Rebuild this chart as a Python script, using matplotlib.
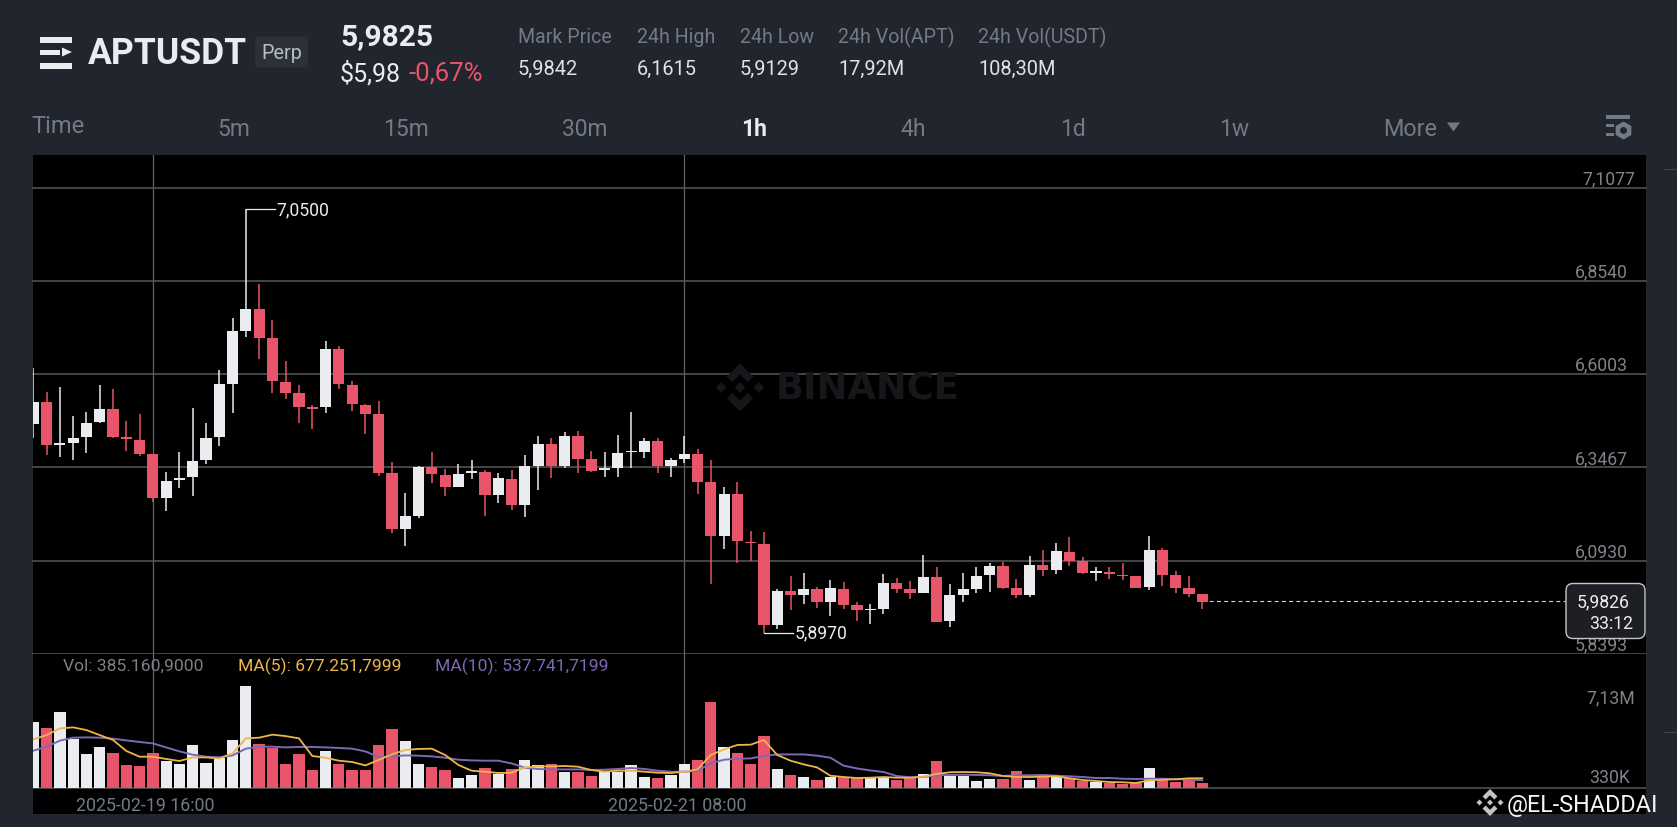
import matplotlib
matplotlib.use("Agg")
from matplotlib import pyplot as plt
from matplotlib.patches import FancyBboxPatch, Polygon, Rectangle
import numpy as np

plt.rcParams['font.family'] = ['Roboto', 'DejaVu Sans']

# Candles, 1h bars
opens = [6.465, 6.524, 6.407, 6.414, 6.429, 6.470, 6.506, 6.429, 6.422, 6.382,
         6.265, 6.312, 6.320, 6.366, 6.430, 6.575, 6.718, 6.777, 6.700, 6.580,
         6.549, 6.511, 6.511, 6.670, 6.572, 6.516, 6.492, 6.332, 6.179, 6.216,
         6.349, 6.327, 6.294, 6.331, 6.335, 6.271, 6.316, 6.245, 6.352, 6.411,
         6.352, 6.431, 6.370, 6.339, 6.345, 6.388, 6.388, 6.420, 6.351, 6.369,
         6.383, 6.306, 6.161, 6.274, 6.144, 6.139, 5.917, 6.012, 6.001, 6.015,
         5.982, 6.017, 5.972, 5.960, 5.961, 6.033, 6.015, 6.006, 6.048, 5.928,
         6.000, 6.017, 6.053, 6.080, 6.019, 6.001, 6.081, 6.068, 6.118, 6.091,
         6.060, 6.062, 6.055, 6.051, 6.021, 6.123, 6.053, 6.018, 6.002]
closes = [6.524, 6.407, 6.413, 6.428, 6.469, 6.506, 6.429, 6.424, 6.382, 6.265,
          6.310, 6.319, 6.364, 6.428, 6.574, 6.717, 6.778, 6.700, 6.582, 6.550,
          6.512, 6.506, 6.670, 6.573, 6.518, 6.493, 6.333, 6.178, 6.216, 6.349,
          6.328, 6.294, 6.329, 6.336, 6.271, 6.317, 6.245, 6.351, 6.411, 6.352,
          6.431, 6.371, 6.337, 6.344, 6.387, 6.392, 6.420, 6.352, 6.368, 6.383,
          6.307, 6.161, 6.274, 6.146, 6.140, 5.917, 6.012, 6.000, 6.015, 5.981,
          6.018, 5.972, 5.960, 5.963, 6.033, 6.015, 6.006, 6.048, 5.927, 5.999,
          6.016, 6.052, 6.080, 6.020, 6.001, 6.081, 6.068, 6.119, 6.092, 6.060,
          6.064, 6.058, 6.051, 6.020, 6.123, 6.055, 6.020, 6.003, 5.982]
highs = [6.616, 6.551, 6.566, 6.487, 6.497, 6.572, 6.559, 6.473, 6.493, 6.382,
         6.334, 6.388, 6.509, 6.468, 6.613, 6.752, 7.050, 6.847, 6.747, 6.635,
         6.571, 6.516, 6.692, 6.676, 6.583, 6.519, 6.528, 6.362, 6.276, 6.352,
         6.388, 6.342, 6.355, 6.366, 6.339, 6.332, 6.339, 6.381, 6.433, 6.426,
         6.444, 6.445, 6.392, 6.388, 6.435, 6.497, 6.426, 6.426, 6.372, 6.431,
         6.396, 6.366, 6.293, 6.308, 6.173, 6.172, 6.015, 6.051, 6.060, 6.021,
         6.040, 6.034, 5.982, 5.974, 6.056, 6.045, 6.039, 6.108, 6.077, 6.029,
         6.059, 6.077, 6.088, 6.089, 6.042, 6.105, 6.122, 6.142, 6.158, 6.103,
         6.076, 6.077, 6.086, 6.051, 6.160, 6.127, 6.064, 6.051, 6.002]
lows = [6.428, 6.380, 6.374, 6.367, 6.387, 6.468, 6.428, 6.392, 6.378, 6.253,
        6.228, 6.291, 6.270, 6.356, 6.404, 6.495, 6.702, 6.642, 6.548, 6.532,
        6.469, 6.450, 6.496, 6.561, 6.501, 6.439, 6.323, 6.169, 6.134, 6.209,
        6.305, 6.270, 6.293, 6.316, 6.215, 6.249, 6.231, 6.211, 6.285, 6.318,
        6.346, 6.331, 6.335, 6.320, 6.320, 6.346, 6.372, 6.333, 6.322, 6.358,
        6.274, 6.031, 6.125, 6.086, 6.091, 5.897, 5.908, 5.959, 5.975, 5.965,
        5.942, 5.962, 5.929, 5.921, 5.949, 6.006, 5.990, 6.004, 5.925, 5.912,
        5.982, 6.004, 6.009, 6.015, 5.992, 5.995, 6.052, 6.056, 6.079, 6.057,
        6.039, 6.043, 6.041, 6.019, 6.013, 6.024, 6.004, 5.995, 5.962]

# Volume in millions
volumes = [4.64, 4.19, 5.31, 3.45, 2.38, 2.84, 2.45, 1.63, 1.56, 2.45,
           1.91, 1.70, 2.98, 1.72, 2.12, 3.33, 7.13, 3.05, 2.82, 1.68,
           2.38, 1.26, 2.56, 1.68, 1.26, 1.28, 3.03, 4.10, 3.29, 1.65,
           1.47, 1.23, 0.72, 0.93, 1.42, 0.98, 1.30, 1.96, 1.61, 1.65,
           1.14, 1.14, 0.86, 1.21, 1.14, 1.61, 0.79, 0.72, 0.91, 1.65,
           1.98, 5.99, 2.89, 2.47, 1.65, 3.61, 1.30, 0.89, 0.77, 0.56,
           0.77, 0.75, 0.68, 0.70, 0.70, 0.58, 0.70, 0.96, 1.86, 0.86,
           0.82, 0.47, 0.61, 0.61, 1.21, 0.58, 0.79, 0.84, 0.72, 0.49,
           0.40, 0.35, 0.30, 0.35, 1.42, 0.61, 0.44, 0.54, 0.385]
ma5 = [3.40, 3.70, 4.17, 4.24, 4.05, 3.70, 3.36, 2.59, 2.19, 2.19,
       2.03, 1.89, 2.14, 2.14, 2.07, 2.42, 3.47, 3.52, 3.73, 3.63,
       3.47, 2.24, 2.12, 1.91, 1.82, 1.58, 1.96, 2.35, 2.66, 2.73,
       2.75, 2.31, 1.61, 1.21, 1.14, 1.05, 1.07, 1.44, 1.51, 1.51,
       1.54, 1.49, 1.26, 1.14, 1.21, 1.21, 1.14, 1.07, 1.05, 1.14,
       1.30, 2.31, 2.70, 3.01, 3.03, 3.36, 2.31, 1.91, 1.65, 1.44,
       0.86, 0.77, 0.70, 0.72, 0.77, 0.72, 0.72, 0.79, 0.98, 1.10,
       1.12, 1.10, 1.03, 0.84, 0.77, 0.77, 0.79, 0.82, 0.68, 0.56,
       0.49, 0.42, 0.40, 0.35, 0.54, 0.58, 0.61, 0.68, 0.68]
ma10 = [2.61, 2.89, 3.31, 3.52, 3.54, 3.52, 3.45, 3.33, 3.22, 3.12,
        2.84, 2.56, 2.33, 2.19, 2.14, 2.28, 2.75, 2.89, 2.89, 2.84,
        2.87, 2.87, 2.84, 2.80, 2.75, 2.56, 2.17, 2.21, 2.28, 2.26,
        2.21, 2.12, 1.98, 1.93, 1.91, 1.91, 1.72, 1.42, 1.33, 1.30,
        1.30, 1.30, 1.26, 1.28, 1.33, 1.40, 1.33, 1.21, 1.14, 1.14,
        1.21, 1.72, 1.98, 2.05, 2.07, 2.24, 2.35, 2.35, 2.35, 2.26,
        2.12, 1.56, 1.37, 1.23, 1.12, 0.84, 0.75, 0.77, 0.89, 0.91,
        0.93, 0.91, 0.89, 0.84, 0.89, 0.89, 0.91, 0.86, 0.82, 0.77,
        0.70, 0.70, 0.65, 0.63, 0.65, 0.65, 0.61, 0.61, 0.54]

price_ticks = [7.1077, 6.8540, 6.6003, 6.3467, 6.0930, 5.8393]
price_labels = ['7,1077', '6,8540', '6,6003', '6,3467', '6,0930', '5,8393']
time_ticks = [9, 49]
time_labels = ['2025-02-19 16:00', '2025-02-21 08:00']
last_price = 5.9826
high_mark = 7.05
low_mark = 5.897

stats = [('Mark Price', '5,9842'), ('24h High', '6,1615'), ('24h Low', '5,9129'),
         ('24h Vol(APT)', '17,92M'), ('24h Vol(USDT)', '108,30M')]
intervals = ['5m', '15m', '30m', '1h', '4h', '1d', '1w']

BG = '#21252e'
RED = '#e8546a'
WHITE = '#eaecef'
GREY = '#747a85'
GRID = '#58585c'
W, H = 1677, 828

fig = plt.figure(figsize=(W / 100, H / 100), dpi=100, facecolor=BG)


def axes_px(x0, y0, x1, y1):
    # axes from pixel box, y measured from the top
    ax = fig.add_axes([x0 / W, 1 - y1 / H, (x1 - x0) / W, (y1 - y0) / H])
    ax.set_facecolor('black')
    for s in ax.spines.values():
        s.set_visible(False)
    ax.set_xticks([])
    ax.set_yticks([])
    return ax


ax = axes_px(33, 156, 1646, 655)
ax_vol = axes_px(33, 655, 1646, 815)
xs = np.arange(len(opens))
ups = [c >= o for o, c in zip(opens, closes)]
colors = [WHITE if u else RED for u in ups]

ax.set_xlim(-0.023, 121.4)
ax_vol.set_xlim(-0.023, 121.4)
ax.set_ylim(5.8393, 7.1967)
ax_vol.set_ylim(-1.817, 9.37)

# crosshair stops at the volume baseline
for t in time_ticks:
    ax.axvline(t, color='#626266', lw=0.9, zorder=1)
    ax_vol.axvline(t, ymin=26 / 160, color='#626266', lw=0.9, zorder=1)

# price grid
for p in price_ticks:
    ax.axhline(p, color=GRID, lw=1.1, zorder=1, clip_on=False)
ax_vol.axhline(0, color=GRID, lw=1.1, zorder=1)

# candles
ax.vlines(xs, lows, highs, colors=colors, lw=1.1, zorder=3)
bottoms = [min(o, c) for o, c in zip(opens, closes)]
heights = [abs(o - c) for o, c in zip(opens, closes)]
ax.bar(xs, heights, bottom=bottoms, width=0.84, color=colors, zorder=4)

# high / low marks
hi = highs.index(high_mark)
lo = lows.index(low_mark)
ax.plot([hi, hi + 2.2], [high_mark, high_mark], color=WHITE, lw=0.9, zorder=3)
ax.plot([lo, lo + 2.2], [low_mark, low_mark], color=WHITE, lw=0.9, zorder=3)
ax.text(hi + 2.3, high_mark, '7,0500', color=WHITE, fontsize=12.7, va='center', ha='left')
ax.text(lo + 2.3, low_mark, '5,8970', color=WHITE, fontsize=12.7, va='center', ha='left')

# last price line
ax.plot([len(opens) - 1, 115.3], [last_price, last_price], color='#d8d8d8', lw=0.8,
        dashes=(3.5, 3), zorder=2)

# volume
ax_vol.bar(xs, volumes, width=0.85, color=colors, zorder=3)
ax_vol.plot(xs, ma10, color='#7d68b5', lw=1.4, zorder=4)
ax_vol.plot(xs, ma5, color='#efb54a', lw=1.3, zorder=5)
for t, lab in zip(time_ticks, time_labels):
    ax_vol.text(t - 0.55, -1.2, lab, color=GREY, fontsize=12.8, ha='center', va='center')

# overlay in pixel coordinates for the app chrome
ov = fig.add_axes([0, 0, 1, 1], zorder=10)
ov.set_xlim(0, W)
ov.set_ylim(H - 1.5, -1.5)
ov.axis('off')
ov.patch.set_alpha(0)


def label(x, y, s, color=GREY, size=13.5, ha='left', weight='normal', z=5, family=None):
    ov.text(x, y, s, color=color, fontsize=size, ha=ha, va='center', fontweight=weight,
            zorder=z, family=family)


def rect(x, y, w, h, color, z=4):
    ov.add_patch(Rectangle((x, y), w, h, color=color, lw=0, zorder=z))


def exchange_logo(cx, cy, s, color, z=1):
    # three small diamonds and two chevrons
    for dx in (-0.78, 0, 0.78):
        r = 0.22
        ov.add_patch(Polygon([[cx + (dx - r) * s, cy], [cx + dx * s, cy - r * s],
                              [cx + (dx + r) * s, cy], [cx + dx * s, cy + r * s]],
                             color=color, lw=0, zorder=z))
    for sign in (-1, 1):
        pts = [(0, 1), (0.55, 0.45), (0.32, 0.22), (0, 0.54), (-0.32, 0.22), (-0.55, 0.45)]
        ov.add_patch(Polygon([[cx + px * s, cy + sign * py * s] for px, py in pts],
                             color=color, lw=0, zorder=z))


# menu icon + symbol
rect(40, 36, 32, 6, WHITE)
rect(40, 49, 20, 5, WHITE)
ov.add_patch(Polygon([[62, 47], [72, 51.5], [62, 56]], color=WHITE, lw=0))
rect(40, 62, 32, 6, WHITE)
label(88, 52, 'APTUSDT', WHITE, 25.6, weight='bold')
ov.add_patch(FancyBboxPatch((255, 36), 53, 31, boxstyle='round,pad=0,rounding_size=3',
                            fc='#2b3039', ec='none'))
label(282, 52, 'Perp', '#b7bdc6', 14.2, ha='center')
label(340, 36, '5,9825', WHITE, 21.5, weight='bold')
label(340, 72, '$5,98', WHITE, 18)
label(409, 72, '-0,67%', RED, 18.5)

for x, (name, val) in zip([518, 637, 740, 838.5, 978.5], stats):
    label(x, 36, name, GREY, 14.1)
    label(x, 68, val, '#dfe2e6', 14.4)

# interval row
label(31, 125, 'Time', GREY, 17)
for x, s in zip([234, 406, 585, 754, 913, 1073, 1234], intervals):
    if s == '1h':
        label(x, 128, s, WHITE, 16.5, ha='center', weight='bold')
    else:
        label(x, 128, s, GREY, 16.5, ha='center')
label(1410, 128, 'More', GREY, 16.8, ha='center')
ov.add_patch(Polygon([[1447, 122], [1460, 122], [1453.5, 131]], color=GREY, lw=0))
rect(1606, 114, 24, 4, GREY)
rect(1606, 123, 8, 3, GREY)
rect(1606, 132, 8, 3, GREY)
ov.plot([1623], [129], marker='h', ms=13, mfc=GREY, mec='none', ls='')
ov.plot([1623], [129], marker='o', ms=5, mfc=BG, mec='none', ls='')

# right scale labels
for p, lab in zip(price_ticks, price_labels):
    y = H - ax.transData.transform((0, p))[1] - 11
    label(1635.5 if lab == '7,1077' else 1628, y, lab, '#80838a', 12.7, ha='right', z=2)
label(1635.5, 697, '7,13M', '#80838a', 12.7, ha='right')
label(1630, 777, '330K', '#80838a', 12.7, ha='right')

# last price box
ov.add_patch(FancyBboxPatch((1566, 583), 79, 55, boxstyle='round,pad=0,rounding_size=7',
                            fc='#1d1f25', ec='#c4c6c9', lw=1, zorder=3))
label(1603, 601, '5,9826', WHITE, 12.7, ha='center')
label(1611, 623, '33:12', WHITE, 12.7, ha='center')

# volume legend
label(63, 665, 'Vol: 385.160,9000', '#7c7f86', 12.6)
label(238, 665, 'MA(5): 677.251,7999', '#efb54a', 12.6)
label(435, 665, 'MA(10): 537.741,7199', '#7d68b5', 12.6)

# faint exchange watermark behind the chart
exchange_logo(740, 387, 24, '#16171a')
label(776, 388, 'BINANCE', '#16171a', 26.5, weight='bold', z=1, family='DejaVu Sans')

# side ticks + signature
rect(1664, 168, 13, 1.5, '#3d424c')
rect(1664, 731, 13, 1.5, '#3d424c')
exchange_logo(1490, 802, 13.5, '#c4c4c4', z=6)
label(1507, 804, '@EL-SHADDAI', '#f5f5f5', 16.8, z=6)

fig.savefig('out.png', dpi=100, facecolor=BG)
